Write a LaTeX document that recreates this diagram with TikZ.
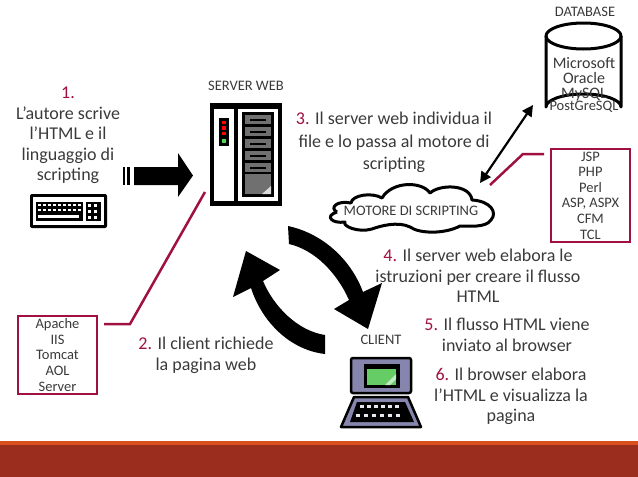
\documentclass[tikz,border=0pt]{standalone}
\usepackage{fontspec}
\setmainfont{Carlito}
\usetikzlibrary{arrows.meta}
\definecolor{myred}{HTML}{A01040}
\definecolor{mytext}{HTML}{3A3A3A}
\definecolor{mygray}{HTML}{707070}
\definecolor{mylilac}{HTML}{8585AD}
\definecolor{mygreen}{HTML}{66CC66}
\definecolor{myorange}{HTML}{D9501E}
\definecolor{mybrown}{HTML}{9B2D1F}
\tikzset{
	steptext/.style={text=mytext, align=center, inner sep=0pt, font=\fontsize{18}{#1}\selectfont},
	steptext/.default=20.5,
	smalltext/.style={text=mytext, align=center, inner sep=0pt, font=\fontsize{14.5}{15.6}\selectfont},
	listbox/.style={draw=myred, line width=2.5pt, fill=none},
	redline/.style={draw=myred, line width=2.5pt},
	blackline/.style={draw=black, line width=3pt, line join=round}
}
\newcommand{\num}[1]{\textcolor{myred}{#1}}

\begin{document}
\begin{tikzpicture}[x=1pt, y=-1pt, >=Stealth]
	\useasboundingbox (0,0) rectangle (638,477);

	% Draw the bottom band
	\fill[mybrown] (0,445) rectangle (638,477);
	\fill[myorange] (0,441) rectangle (638,445);

	% Draw the keyboard
	\fill[black] (30,194) [rounded corners=2pt] rectangle (107,228);
	\fill[white] (33,197) rectangle (104,225);
	\fill[black] (36,202) rectangle (83,221);
	\fill[black] (86,202) rectangle (101,221);
	\foreach \x in {38,43,...,78} {
		\fill[white] (\x,204) rectangle +(3,2);
		\fill[white] (\x,209) rectangle +(3,2);
	}
	\fill[white] (38,215) rectangle (79,218);
	\foreach \x in {88,94} \foreach \y in {204,210,216}
		\fill[white] (\x,\y) rectangle +(3,3);

	% Draw the block arrow to the server
	\fill[black] (123,167) rectangle (125,185);
	\fill[black] (127,167) rectangle (130,185);
	\fill[black] (134,167) -- (178,167) -- (178,153) -- (193,175.5) -- (178,197) -- (178,185) -- (134,185) -- cycle;

	% Draw the server
	\fill[black] (210,103) rectangle (282,206);
	\fill[white] (214,109) rectangle (234,201);
	\fill[white] (238,109) rectangle (278,201);
	\fill[black] (242,112) rectangle (274,197);
	\fill[mygray] (245,115) rectangle (271,124);
	\fill[mygray] (245,127) rectangle (271,136);
	\fill[mygray] (245,139) rectangle (271,148);
	\fill[mygray] (245,151) rectangle (271,160);
	\fill[mygray] (245,163) rectangle (271,172);
	\fill[mygray] (245,174) rectangle (271,194);
	\fill[black] (250,118.5) rectangle (266,120.5);
	\fill[black] (250,130.5) rectangle (266,132.5);
	\fill[black] (250,142.5) rectangle (266,144.5);
	\fill[black] (250,154.5) rectangle (266,156.5);
	\fill[black] (250,166.5) rectangle (266,168.5);
	\fill[black!15] (271,186) -- (271,194) -- (262,194) -- cycle;
	\fill[black] (219,118) rectangle (229,146);
	\fill[red] (222,120.5) rectangle (226,124);
	\fill[red] (222,126) rectangle (226,129.5);
	\fill[red] (222,131.5) rectangle (226,135);
	\fill[mygreen!80!green] (222,139) rectangle (226,143);

	% Draw the database
	\draw[blackline, fill=white] (546,36) -- (546,107) arc[start angle=180, end angle=360, x radius=37.5, y radius=13] -- (621,36);
	\draw[blackline] (583.5,36) ellipse[x radius=37.5, y radius=13];

	% Draw the cloud
	\draw[blackline] (337,212) .. controls (329,208) and (337,200) .. (351,203)
		.. controls (352,195) and (372,192) .. (382,198)
		.. controls (392,181) and (422,181) .. (430,193)
		.. controls (440,184) and (470,184) .. (472,200)
		.. controls (490,201) and (498,212) .. (491,220)
		.. controls (486,228) and (468,226) .. (460,226)
		.. controls (445,234) and (420,234) .. (410,227)
		.. controls (398,221) and (380,226) .. (372,229)
		.. controls (358,233) and (342,226) .. (345,222)
		.. controls (332,224) and (324,216) .. (337,212);

	% Draw the text of the shapes
	\node[smalltext] (database) at (585,12) {DATABASE};
	\node[smalltext] (serverweb) at (246,86) {SERVER WEB};
	\node[smalltext] (client) at (381,340) {CLIENT};
	\node[smalltext] (motore) at (411,211) {MOTORE DI SCRIPTING};
	\node[smalltext, font=\fontsize{16}{15.2}\selectfont] (dbnames) at (584,79) {Microsoft\\Oracle\\MySQL};
	\node[smalltext] (postgres) at (584,107) {PostGreSQL};

	% Draw the two boxes with their lists
	\node[listbox, smalltext, minimum width=79pt, minimum height=93pt] (scriptbox) at (590.5,195.5) {JSP\\PHP\\Perl\\ASP, ASPX\\CFM\\TCL};
	\node[listbox, smalltext, minimum width=79pt, minimum height=78pt] (serverbox) at (57.5,355) {Apache\\IIS\\Tomcat\\AOL\\Server};

	% Draw the red connecting lines
	\coordinate (scriptend) at (490,185);
	\coordinate (scriptstart) at (544,154);
	\coordinate (serverend) at (205,192);
	\coordinate (serverstart) at (104,324);
	\draw[redline] (scriptstart) -- (523,154) -- (scriptend);
	\draw[redline] (serverstart) -- (130,324) -- (serverend);

	% Draw the arrow between database and engine
	\coordinate (dbport) at (533,105);
	\coordinate (cloudport) at (480,183);
	\draw[<->, line width=2.2pt, >={Stealth[length=11pt, width=11pt, inset=0pt]}] (dbport) -- (cloudport);

	% Draw the two big curved arrows
	\fill[black] (288,226) .. controls (325,234) and (352,262) .. (363,292)
		-- (382,283) -- (368,329) -- (334,309) -- (349,300)
		.. controls (337,273) and (315,250) .. (289,244) -- cycle;
	\fill[black] (325,354) .. controls (290,350) and (262,322) .. (251,288)
		-- (233,297) -- (246,251) -- (280,270) -- (263,281)
		.. controls (274,307) and (298,331) .. (325,335) -- cycle;

	% Draw the laptop
	\draw[line width=2.5pt, fill=mylilac, rounded corners=2pt] (351,358) rectangle (411,393);
	\fill[black] (364,364) rectangle (400,388);
	\fill[mygreen] (367,369) rectangle (396,385);
	\fill[mygreen!40!white] (396,374) -- (396,379) -- (390,385) -- (385,385) -- cycle;
	\draw[line width=2.5pt, fill=mylilac, line join=round] (354,397) -- (408,397) -- (421,427) -- (341,427) -- cycle;
	\fill[black] (357,402) -- (405,402) -- (414,422) -- (350,422) -- cycle;
	\foreach \x in {360,367,...,395} \fill[white!80!mylilac] (\x,405) rectangle +(4,3);
	\foreach \x in {356,364,...,396} \fill[white!80!mylilac] (\x,414) rectangle +(4,3);

	% Label the steps
	\node[steptext] (step1) at (68,135.5) {\num{1.}\\L'autore scrive\\l'HTML e il\\linguaggio di\\scripting};
	\node[steptext] (step2) at (206,355.5) {\num{2.} Il client richiede\\la pagina web};
	\node[steptext=22.5] (step3) at (394,142.5) {\num{3.} Il server web individua il\\file e lo passa al motore di\\scripting};
	\node[steptext] (step4) at (478,276) {\num{4.} Il server web elabora le\\istruzioni per creare il flusso\\HTML};
	\node[steptext] (step5) at (507,335) {\num{5.} Il flusso HTML viene\\inviato al browser};
	\node[steptext] (step6) at (511,396.5) {\num{6.} Il browser elabora\\l'HTML e visualizza la\\pagina};
\end{tikzpicture}
\end{document}
